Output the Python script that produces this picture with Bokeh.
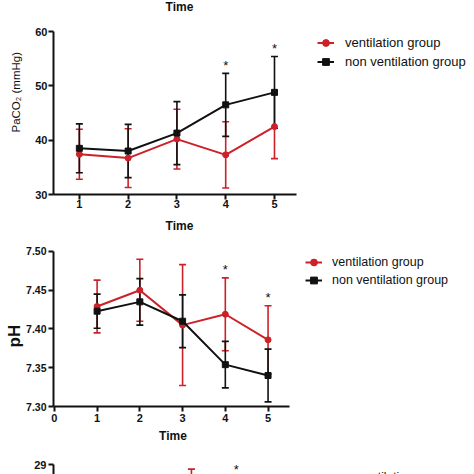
import math
from bokeh.plotting import figure
from bokeh.layouts import column
from bokeh.models import (ColumnDataSource, Whisker, TeeHead, Legend, LegendItem, Label, Title,
                          FixedTicker, NumeralTickFormatter, Range1d)
from bokeh.core.properties import value
from bokeh.embed import file_html
from bokeh.resources import INLINE

FONT = "Liberation Sans"
RED = "#cc2128"
BLACK = "#111111"

# ---- data -------------------------------------------------------------
time = [1, 2, 3, 4, 5]

paco2_vent_mean = [37.4, 36.7, 40.2, 37.3, 42.5]
paco2_vent_sd = [4.6, 5.4, 5.5, 6.1, 5.9]
paco2_non_mean = [38.5, 38.0, 41.3, 46.5, 48.8]
paco2_non_sd = [4.5, 4.9, 5.8, 5.8, 6.6]

ph_vent_mean = [7.429, 7.450, 7.405, 7.419, 7.386]
ph_vent_sd = [0.034, 0.040, 0.078, 0.047, 0.044]
ph_non_mean = [7.423, 7.435, 7.410, 7.354, 7.340]
ph_non_sd = [0.022, 0.030, 0.034, 0.030, 0.034]

sig_times = [4, 5]

# third panel (only its top edge is in view)
hco3_cap_time = [3]
hco3_vent_upper = [28.7]
hco3_sig_time = [4]
hco3_sig_upper = [28.1]

group_labels = ["ventilation group", "non ventilation group"]
x_title = "Time"


def style_axes(p, xfs="11px", yfs="11px", xstand=2, ystand=2):
    for ax, fs, st in ((p.xaxis, xfs, xstand), (p.yaxis, yfs, ystand)):
        ax.axis_line_width = 2
        ax.axis_line_color = BLACK
        ax.major_tick_line_width = 2
        ax.major_tick_line_color = BLACK
        ax.major_tick_out = 5
        ax.major_tick_in = 0
        ax.minor_tick_line_color = None
        ax.major_label_text_font = FONT
        ax.major_label_text_font_style = "bold"
        ax.major_label_text_font_size = fs
        ax.major_label_text_color = BLACK
        ax.major_label_standoff = st
    p.grid.visible = False
    p.outline_line_color = None


def draw_group(p, mean, sd, color, marker, size):
    lo = [m - s for m, s in zip(mean, sd)]
    hi = [m + s for m, s in zip(mean, sd)]
    src = ColumnDataSource(dict(t=time, m=mean, lo=lo, hi=hi))
    w = Whisker(base="t", lower="lo", upper="hi", source=src, dimension="height",
                line_color=color, line_width=1.6,
                upper_head=TeeHead(size=7, line_color=color, line_width=1.6),
                lower_head=TeeHead(size=7, line_color=color, line_width=1.6))
    p.add_layout(w)
    ln = p.line("t", "m", source=src, line_color=color, line_width=2)
    pts = p.scatter("t", "m", source=src, marker=marker, size=size,
                    fill_color=color, line_color=color)
    return ln, pts, hi


def add_stars(p, hi_a, hi_b):
    ys = [max(hi_a[t - 1], hi_b[t - 1]) for t in sig_times]
    src = ColumnDataSource(dict(t=sig_times, y=ys, s=["*"] * len(sig_times)))
    p.text("t", "y", text="s", source=src, text_align="center", text_baseline="middle",
           y_offset=-8, text_font=value(FONT), text_font_size="13px", text_color=BLACK)


def add_legend(p, items, x, y, gh, standoff, fs):
    leg = Legend(items=[LegendItem(label=lab, renderers=list(rs)) for lab, rs in items],
                 location=(x, y), padding=0, spacing=0, margin=0,
                 glyph_width=17, glyph_height=gh, label_height=gh,
                 label_standoff=standoff, border_line_color=None,
                 background_fill_alpha=0, label_text_font=FONT,
                 label_text_font_size=fs, label_text_color=BLACK)
    p.add_layout(leg)


def add_time_title(p, x, y):
    # x-axis title of the panel above, placed in this panel's open top strip
    p.add_layout(Label(x=x, y=y, x_units="screen", y_units="screen", text=x_title,
                       text_align="center", text_baseline="middle", text_font=FONT,
                       text_font_style="bold", text_font_size="12px", text_color=BLACK))


def add_y_title(p, text, size, style, offset, standoff, valign="bottom"):
    p.add_layout(Title(text=text, align="left", offset=offset, standoff=standoff,
                       vertical_align=valign, text_font=FONT, text_font_style=style,
                       text_font_size=size, text_color=BLACK), "left")


# Each plot area runs to the right edge and up to the panel's top so the
# legends and titles sit inside it; axis lines are bounded to the data span.

# ---- PaCO2 ------------------------------------------------------------
p1 = figure(width=474, height=214, x_range=Range1d(0.47, 9.1), y_range=Range1d(30, 65.706),
            output_backend="svg", toolbar_location=None,
            min_border_left=53, min_border_right=0, min_border_top=0, min_border_bottom=20)
style_axes(p1, xstand=0, ystand=1)
p1.xaxis.ticker = FixedTicker(ticks=time)
p1.xaxis.bounds = (0.47, 5.45)
p1.yaxis.ticker = FixedTicker(ticks=[30, 40, 50, 60])
p1.yaxis.bounds = (30, 60)
add_y_title(p1, "PaCO\u2082 (mmHg)", "11.5px", "normal", 62, 17, valign="top")
add_time_title(p1, 126, 187.5)

v1 = draw_group(p1, paco2_vent_mean, paco2_vent_sd, RED, "circle", 6)
n1 = draw_group(p1, paco2_non_mean, paco2_non_sd, BLACK, "square", 6)
add_stars(p1, v1[2], n1[2])
add_legend(p1, [(group_labels[0], v1[:2]), (group_labels[1], n1[:2])],
           264, 123, 19, 11, "13px")

# ---- pH ---------------------------------------------------------------
p2 = figure(width=474, height=212, x_range=Range1d(-0.02, 9.83), y_range=Range1d(7.30, 7.5477),
            output_backend="svg", toolbar_location=None,
            min_border_left=53, min_border_right=0, min_border_top=0, min_border_bottom=20)
style_axes(p2, yfs="10.5px", xstand=2, ystand=2)
p2.xaxis.ticker = FixedTicker(ticks=[0, 1, 2, 3, 4, 5])
p2.xaxis.bounds = (-0.02, 5.5)
p2.yaxis.ticker = FixedTicker(ticks=[7.30, 7.35, 7.40, 7.45, 7.50])
p2.yaxis.bounds = (7.30, 7.50)
p2.yaxis.formatter = NumeralTickFormatter(format="0.00")
add_y_title(p2, "pH", "17px", "bold", 59, 0)
add_time_title(p2, 126, 181)

v2 = draw_group(p2, ph_vent_mean, ph_vent_sd, RED, "circle", 6)
n2 = draw_group(p2, ph_non_mean, ph_non_sd, BLACK, "square", 6)
add_stars(p2, v2[2], n2[2])
add_legend(p2, [(group_labels[0], v2[:2]), (group_labels[1], n2[:2])],
           252, 117, 18, 10, "12.5px")

# ---- third panel, top edge only ---------------------------------------
p3 = figure(width=474, height=48, x_range=Range1d(-0.07, 9.3), y_range=Range1d(28.355, 31.452),
            output_backend="svg", toolbar_location=None, x_axis_location=None,
            min_border_left=53, min_border_right=0, min_border_top=0, min_border_bottom=0)
style_axes(p3)
p3.yaxis.ticker = FixedTicker(ticks=[29])
p3.yaxis.bounds = (28, 29)
add_time_title(p3, 119.5, 39)
cap_src = ColumnDataSource(dict(t=hco3_cap_time, y=hco3_vent_upper))
p3.ray("t", "y", source=cap_src, length=0, angle=-math.pi / 2, line_color=RED, line_width=1.6)
p3.scatter("t", "y", source=cap_src, marker="dash", size=7, line_color=RED, line_width=1.8)
sig_src = ColumnDataSource(dict(t=hco3_sig_time, y=hco3_sig_upper, s=["*"]))
p3.text("t", "y", text="s", source=sig_src, text_align="center", text_baseline="middle",
        y_offset=-9, text_font=value(FONT), text_font_size="13px", text_color=BLACK)
p3.add_layout(Label(x=305, y=4.5, x_units="screen", y_units="screen", text=group_labels[0],
                    text_align="left", text_baseline="top", text_font=FONT,
                    text_font_size="12px", text_color=BLACK))

layout = column(p1, p2, p3, spacing=0)
open("out.html", "w").write(file_html(layout, INLINE))
